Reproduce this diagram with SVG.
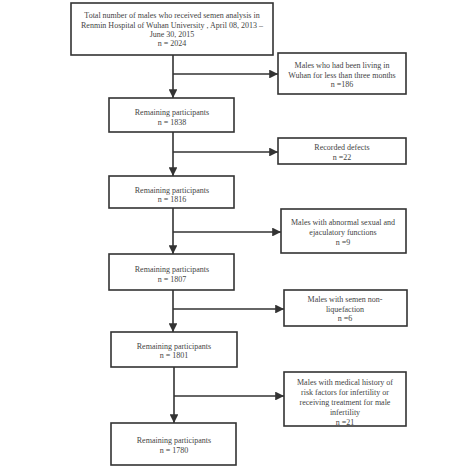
<svg xmlns="http://www.w3.org/2000/svg" width="474" height="467" viewBox="0 0 474 467">
<style>
.box{fill:#fff;stroke:#333;stroke-width:1.6}
.t{font-family:"Liberation Serif","Times New Roman",serif;font-size:8px;fill:#444;text-anchor:middle}
.ln{stroke:#333;stroke-width:1.6;fill:none}
</style>
<defs>
<marker id="ah" viewBox="0 0 10 10" refX="10" refY="5" markerWidth="5.5" markerHeight="5.5" orient="auto" markerUnits="strokeWidth">
<path d="M0,0 L10,5 L0,10 Z" fill="#333"/>
</marker>
</defs>
<rect width="474" height="467" fill="#fff"/>
<g id="connectors">
<path class="ln" d="M173,55 V98" marker-end="url(#ah)"/>
<path class="ln" d="M173,74 H278" marker-end="url(#ah)"/>
<path class="ln" d="M173,132 V176" marker-end="url(#ah)"/>
<path class="ln" d="M173,152 H278" marker-end="url(#ah)"/>
<path class="ln" d="M173,208 V254" marker-end="url(#ah)"/>
<path class="ln" d="M173,232 H281" marker-end="url(#ah)"/>
<path class="ln" d="M173,290 V332" marker-end="url(#ah)"/>
<path class="ln" d="M173,309 H284" marker-end="url(#ah)"/>
<path class="ln" d="M174,367 V423" marker-end="url(#ah)"/>
<path class="ln" d="M174,396 H284" marker-end="url(#ah)"/>
</g>
<g id="start">
<rect class="box" x="71" y="3" width="202" height="52"/>
<text class="t" x="172" y="18">Total number of males who received semen analysis in</text>
<text class="t" x="172" y="28">Renmin Hospital of Wuhan University , April 08, 2013 –</text>
<text class="t" x="172" y="37">June 30, 2015</text>
<text class="t" x="172" y="46">n = 2024</text>
</g>
<g id="excl1">
<rect class="box" x="278" y="53" width="128" height="41"/>
<text class="t" x="342" y="68">Males who had been living in</text>
<text class="t" x="342" y="78">Wuhan for less than three months</text>
<text class="t" x="342" y="87">n =186</text>
</g>
<g id="rem1">
<rect class="box" x="109" y="98" width="125" height="34"/>
<text class="t" x="172" y="115">Remaining participants</text>
<text class="t" x="172" y="125">n = 1838</text>
</g>
<g id="excl2">
<rect class="box" x="278" y="138" width="128" height="26"/>
<text class="t" x="342" y="150">Recorded defects</text>
<text class="t" x="342" y="160">n =22</text>
</g>
<g id="rem2">
<rect class="box" x="109" y="176" width="125" height="32"/>
<text class="t" x="172" y="193">Remaining participants</text>
<text class="t" x="172" y="202">n = 1816</text>
</g>
<g id="excl3">
<rect class="box" x="281" y="209" width="125" height="44"/>
<text class="t" x="343" y="225">Males with abnormal sexual and</text>
<text class="t" x="343" y="235">ejaculatory functions</text>
<text class="t" x="343" y="245">n =9</text>
</g>
<g id="rem3">
<rect class="box" x="109" y="254" width="125" height="36"/>
<text class="t" x="172" y="272">Remaining participants</text>
<text class="t" x="172" y="282">n = 1807</text>
</g>
<g id="excl4">
<rect class="box" x="284" y="290" width="123" height="36"/>
<text class="t" x="345" y="302">Males with semen non-</text>
<text class="t" x="345" y="312">liquefaction</text>
<text class="t" x="345" y="321">n =6</text>
</g>
<g id="rem4">
<rect class="box" x="111" y="332" width="126" height="35"/>
<text class="t" x="174" y="349">Remaining participants</text>
<text class="t" x="174" y="358">n = 1801</text>
</g>
<g id="excl5">
<rect class="box" x="284" y="372" width="122" height="54"/>
<text class="t" x="345" y="385">Males with medical history of</text>
<text class="t" x="345" y="395">risk factors for infertility or</text>
<text class="t" x="345" y="405">receiving treatment for male</text>
<text class="t" x="345" y="415">infertility</text>
<text class="t" x="345" y="425">n =21</text>
</g>
<g id="rem5">
<rect class="box" x="111" y="423" width="125" height="42"/>
<text class="t" x="174" y="443">Remaining participants</text>
<text class="t" x="174" y="453">n = 1780</text>
</g>
</svg>
